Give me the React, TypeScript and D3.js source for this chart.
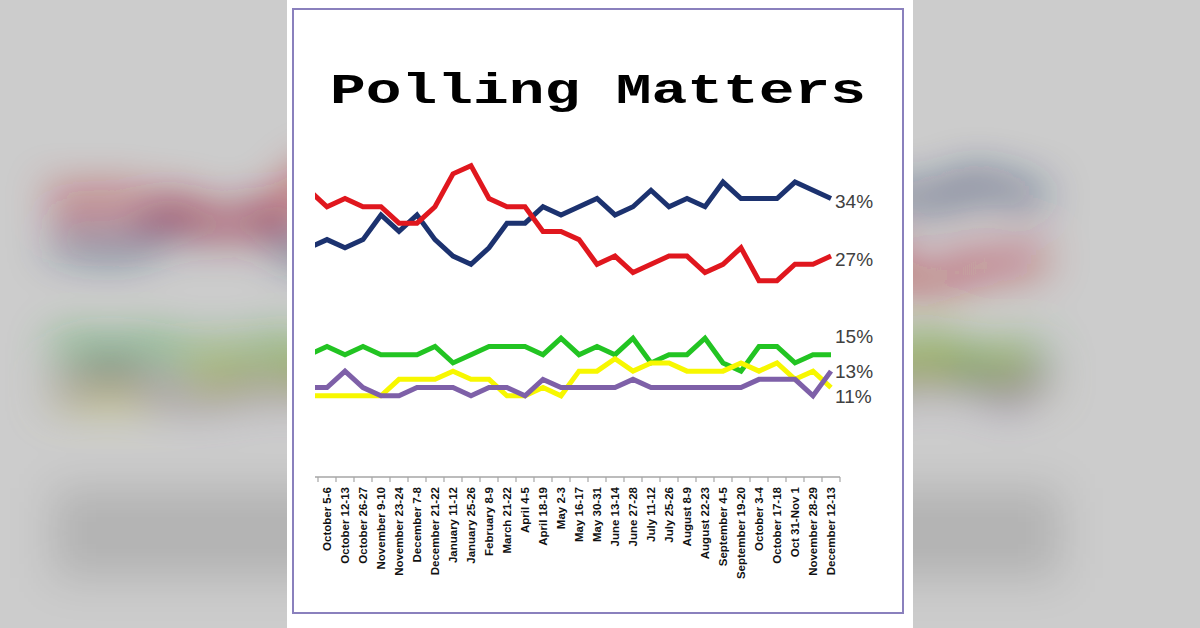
import React from "react";
import * as d3 from "d3";

// Poll dates (the first, unlabeled entry is the earlier poll cut off at the left edge)
const categories: string[] = [
  "",
  "October 5-6",
  "October 12-13",
  "October 26-27",
  "November 9-10",
  "November 23-24",
  "December 7-8",
  "December 21-22",
  "January 11-12",
  "January 25-26",
  "February 8-9",
  "March 21-22",
  "April 4-5",
  "April 18-19",
  "May 2-3",
  "May 16-17",
  "May 30-31",
  "June 13-14",
  "June 27-28",
  "July 11-12",
  "July 25-26",
  "August 8-9",
  "August 22-23",
  "September 4-5",
  "September 19-20",
  "October 3-4",
  "October 17-18",
  "Oct 31-Nov 1",
  "November 28-29",
  "December 12-13",
];

const blueSeries: number[] = [28, 29, 28, 29, 32, 30, 32, 29, 27, 26, 28, 31, 31, 33, 32, 33, 34, 32, 33, 35, 33, 34, 33, 36, 34, 34, 34, 36, 35, 34];
const redSeries: number[] = [35, 33, 34, 33, 33, 31, 31, 33, 37, 38, 34, 33, 33, 30, 30, 29, 26, 27, 25, 26, 27, 27, 25, 26, 28, 24, 24, 26, 26, 27];
const greenSeries: number[] = [15, 16, 15, 16, 15, 15, 15, 16, 14, 15, 16, 16, 16, 15, 17, 15, 16, 15, 17, 14, 15, 15, 17, 14, 13, 16, 16, 14, 15, 15];
const yellowSeries: number[] = [10, 10, 10, 10, 10, 12, 12, 12, 13, 12, 12, 10, 10, 11, 10, 13, 13, 14.5, 13, 14, 14, 13, 13, 13, 14, 13, 14, 12, 13, 11];
const purpleSeries: number[] = [11, 11, 13, 11, 10, 10, 11, 11, 11, 10, 11, 11, 10, 12, 11, 11, 11, 11, 12, 11, 11, 11, 11, 11, 11, 12, 12, 12, 10, 13];

const endLabels: string[] = ["34%", "27%", "15%", "11%", "13%"];
const title = "Polling Matters";

const W = 1200;
const H = 628;

const seriesStyles = [
  { color: "#1c326f", labelDy: 2.5 },
  { color: "#e0171e", labelDy: 3 },
  { color: "#22c422", labelDy: -18 },
  { color: "#f7f700", labelDy: 9 },
  { color: "#7e60a8", labelDy: 0 },
];

export default function App() {
  const allSeries = [blueSeries, redSeries, greenSeries, yellowSeries, purpleSeries];
  const idx = d3.range(categories.length);
  const x = d3.scalePoint<number>().domain(idx).range([309, 831]);
  const step = x.step();
  const y = d3.scaleLinear().domain([0, 34]).range([478, 198.5]);

  const plotLeft = 315;
  const plotRight = (x(categories.length - 1) as number) + step / 2;
  const axisY = y(0) - 1;

  const lineGen = d3
    .line<number>()
    .x((_, i) => x(i) as number)
    .y((d) => y(d));

  // draw order: blue, red, green, yellow, purple
  const lines = (keyPrefix: string, width: number) =>
    allSeries.map((vals, si) => (
      <path
        key={keyPrefix + si}
        d={lineGen(vals) || ""}
        fill="none"
        stroke={seriesStyles[si].color}
        strokeWidth={width}
        strokeLinejoin="miter"
        strokeLinecap="butt"
      />
    ));

  const ticks = idx.slice(1).map((i) => (x(i) as number) - step / 2).concat([plotRight]);

  const panelX = 287;
  const panelW = 626;
  const border = { x: 293, y: 9, w: 610, h: 604 };

  const lastIdx = categories.length - 1;

  return (
    <svg
      width={W}
      height={H}
      viewBox={`0 0 ${W} ${H}`}
      style={{ position: "fixed", left: 0, top: 0, display: "block" }}
    >
      <defs>
        <filter id="bgblur" filterUnits="userSpaceOnUse" x={-300} y={-300} width={1800} height={1300}>
          <feGaussianBlur stdDeviation={22} />
        </filter>
        <clipPath id="plotclip">
          <rect x={plotLeft} y={0} width={plotRight - plotLeft + 20} height={H} />
        </clipPath>
      </defs>

      {/* blurred, stretched backdrop */}
      <rect x={0} y={0} width={W} height={H} fill="#ffffff" />
      <g filter="url(#bgblur)">
        <g transform={`translate(${W / 2} 0) scale(1.92 1) translate(${-W / 2} 0)`}>
          <g clipPath="url(#plotclip)">{lines("bg", 12)}</g>
          <rect x={plotLeft} y={488} width={plotRight - plotLeft} height={90} fill="#000" opacity={0.12} />
        </g>
      </g>
      <rect x={0} y={0} width={W} height={H} fill="#000" opacity={0.2} />

      {/* white panel */}
      <rect x={panelX} y={0} width={panelW} height={H} fill="#ffffff" />
      <rect
        x={border.x}
        y={border.y}
        width={border.w}
        height={border.h}
        fill="none"
        stroke="#8a80bd"
        strokeWidth={2}
      />

      {/* title */}
      <text
        x={330}
        y={103}
        textLength={536}
        lengthAdjust="spacingAndGlyphs"
        fontFamily="'Liberation Mono', 'DejaVu Sans Mono', monospace"
        fontWeight="bold"
        fontSize={42}
        fill="#000"
      >
        {title}
      </text>

      {/* x axis */}
      <line x1={plotLeft} x2={plotRight} y1={axisY} y2={axisY} stroke="#a6a6a6" strokeWidth={1.5} />
      {ticks.map((tx, i) => (
        <line key={"t" + i} x1={tx} x2={tx} y1={axisY} y2={axisY + 5} stroke="#a6a6a6" strokeWidth={1.2} />
      ))}
      {categories.map((c, i) =>
        c ? (
          <text
            key={"c" + i}
            transform={`translate(${x(i)} ${axisY + 10}) rotate(-90)`}
            textAnchor="end"
            dominantBaseline="central"
            fontFamily="'Liberation Sans', Arial, sans-serif"
            fontWeight="bold"
            fontSize={11.5}
            fill="#111"
          >
            {c}
          </text>
        ) : null
      )}

      {/* lines */}
      <g clipPath="url(#plotclip)">{lines("fg", 5)}</g>

      {/* end labels */}
      {allSeries.map((vals, si) => (
        <text
          key={"l" + si}
          x={(x(lastIdx) as number) + 4}
          y={y(vals[lastIdx]) + seriesStyles[si].labelDy}
          dominantBaseline="central"
          fontFamily="'Liberation Sans', Arial, sans-serif"
          fontSize={19}
          fill="#404040"
        >
          {endLabels[si]}
        </text>
      ))}
    </svg>
  );
}
